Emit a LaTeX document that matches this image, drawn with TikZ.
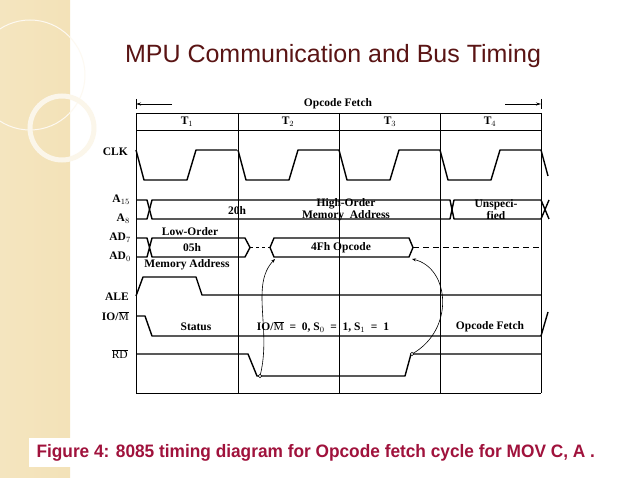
\documentclass[tikz,border=0pt]{standalone}
\usepackage{fontspec}
\setmainfont{Liberation Serif}
\newfontfamily\arialf{Liberation Sans}
\usetikzlibrary{arrows.meta}
\definecolor{beige}{HTML}{F3E2B8}
\definecolor{titlec}{HTML}{5A1414}
\definecolor{capc}{HTML}{A0123C}
\tikzset{
  wave/.style={line width=1.4pt, line join=round},
  grid/.style={line width=0.8pt},
  lbl/.style={font=\bfseries\fontsize{11.5}{12}\selectfont, inner sep=0pt},
  sig/.style={font=\bfseries\fontsize{11.5}{12}\selectfont, inner sep=0pt, anchor=east},
  flow/.style={line width=0.6pt, -{Stealth[length=4pt,width=3pt]}},
  dot/.style={circle, draw, fill=white, inner sep=1.2pt, line width=0.6pt}
}
\begin{document}
\begin{tikzpicture}[x=1pt,y=-1pt]
\useasboundingbox (0,0) rectangle (638,478);
\fill[white] (0,0) rectangle (638,478);
\shade[left color=beige!90!white, right color=beige] (0,0) rectangle (70,478);
\draw[white!80!beige, line width=1pt] (30,75) circle (55);
\draw[white!70!beige, line width=5pt] (62,128) circle (32);
\fill[white] (29,438) rectangle (620,467);
% title
\node[font=\arialf\fontsize{25}{28}\selectfont, text=titlec] (title) at (333,56) {MPU Communication and Bus Timing};
\node[font=\arialf\bfseries\fontsize{18}{20}\selectfont, text=capc, anchor=west] (cap) at (33,453) {\scalebox{0.96}[1]{Figure 4: 8085 timing diagram for Opcode fetch cycle for MOV C, A .}};
% grid
\draw[grid] (136,113) -- (541,113) (136,130) -- (541,130) (136,393) -- (541,393);
\foreach \x in {136,238,339,440,541} \draw[grid] (\x,113) -- (\x,393);
\draw[grid] (136,99) -- (136,109);
\draw[grid] (541,99) -- (541,109);
\node[lbl] (of) at (338,104) {Opcode Fetch};
\coordinate (la) at (172,104); \coordinate (lb) at (136,104);
\coordinate (ra) at (505,104); \coordinate (rb) at (541,104);
\draw[line width=0.8pt,-{Stealth[length=5pt,width=3pt]}] (la) -- (lb);
\draw[line width=0.8pt,-{Stealth[length=5pt,width=3pt]}] (ra) -- (rb);
\node[lbl] (t1) at (187,122) {T$_1$};
\node[lbl] (t2) at (288,122) {T$_2$};
\node[lbl] (t3) at (390,122) {T$_3$};
\node[lbl] (t4) at (490,122) {T$_4$};
% signal labels
\node[sig] (clk) at (128,152) {CLK};
\node[sig] (a15) at (130,200) {A$_{15}$};
\node[sig] (a8) at (130,219) {A$_8$};
\node[sig] (ad7) at (131,238) {AD$_7$};
\node[sig] (ad0) at (131,257) {AD$_0$};
\node[sig] (ale) at (129,297) {ALE};
\node[sig] (iom) at (129,316) {IO/$\overline{\mathrm{M}}$};
\node[sig] (rd) at (128,354) {$\overline{\mathrm{RD}}$};
% CLK
\foreach \x in {136,238,339,440}
  \draw[wave] (\x,150) -- (\x+8,180) -- (\x+51,180) -- (\x+60,150) -- (\x+101,150);
\draw[wave] (541,150) -- (548,176);
% A bus
\draw[wave] (136,200) -- (147,200) -- (152,219) -- (450,219) -- (454,200) -- (541,200) -- (549,219);
\draw[wave] (136,219) -- (147,219) -- (152,200) -- (450,200) -- (454,219) -- (541,219) -- (549,200);
\node[lbl] (h20) at (237,211) {20\textsc{h}};
\node[lbl,align=center] (hoa) at (346,209.5) {High-Order\\Memory\ \ Address};
\node[lbl,align=center] (uns) at (496,209.5) {Unspeci-\\fied};
% AD bus
\draw[wave] (136,238) -- (147,238) -- (152,257) -- (245,257) -- (250,247.5) -- (245,238) -- (152,238) -- (147,257) -- (136,257);
\draw[wave] (274,238) -- (270,247.5) -- (274,257) -- (409,257) -- (413,247.5) -- (409,238) -- cycle;
\draw[line width=0.8pt,dashed] (250,247.5) -- (270,247.5);
\draw[line width=0.8pt,dash pattern=on 6pt off 4pt] (413,247.5) -- (541,247.5);
\node[lbl] (lo) at (190,232) {Low-Order};
\node[lbl] (h05) at (192,248) {05\textsc{h}};
\node[lbl] (op) at (341,248) {4F\textsc{h} Opcode};
\node[lbl] (ma) at (187,264.5) {Memory Address};
% ALE
\draw[wave] (136,296) -- (143,277) -- (196,277) -- (202,295) -- (541,295);
% IO/M
\draw[wave] (136,316) -- (145,316) -- (152,336) -- (541,336) -- (548,312);
\node[lbl] (st) at (196,327) {Status};
\node[lbl] (eq) at (323,327) {IO/$\overline{\mathrm{M}}$\ \ =\ \ 0,\ S$_0$\ \ =\ \ 1,\ S$_1$\ \ =\ \ 1};
\node[lbl] (off) at (490,327) {Opcode Fetch};
% RD
\draw[wave] (136,354) -- (248,354) -- (257,376) -- (405,376) -- (411,354) -- (541,354);
% causal arrows
\coordinate (s1) at (260,376);
\coordinate (e1) at (275,259);
\coordinate (s2) at (412,354);
\coordinate (e2) at (412,259);
\draw[flow] (s1) .. controls (272,330) and (250,285) .. (e1);
\draw[flow] (s2) .. controls (455,330) and (450,268) .. (e2);
\node[dot] (d1) at (s1) {};
\node[dot] (d2) at (s2) {};
\end{tikzpicture}
\end{document}
